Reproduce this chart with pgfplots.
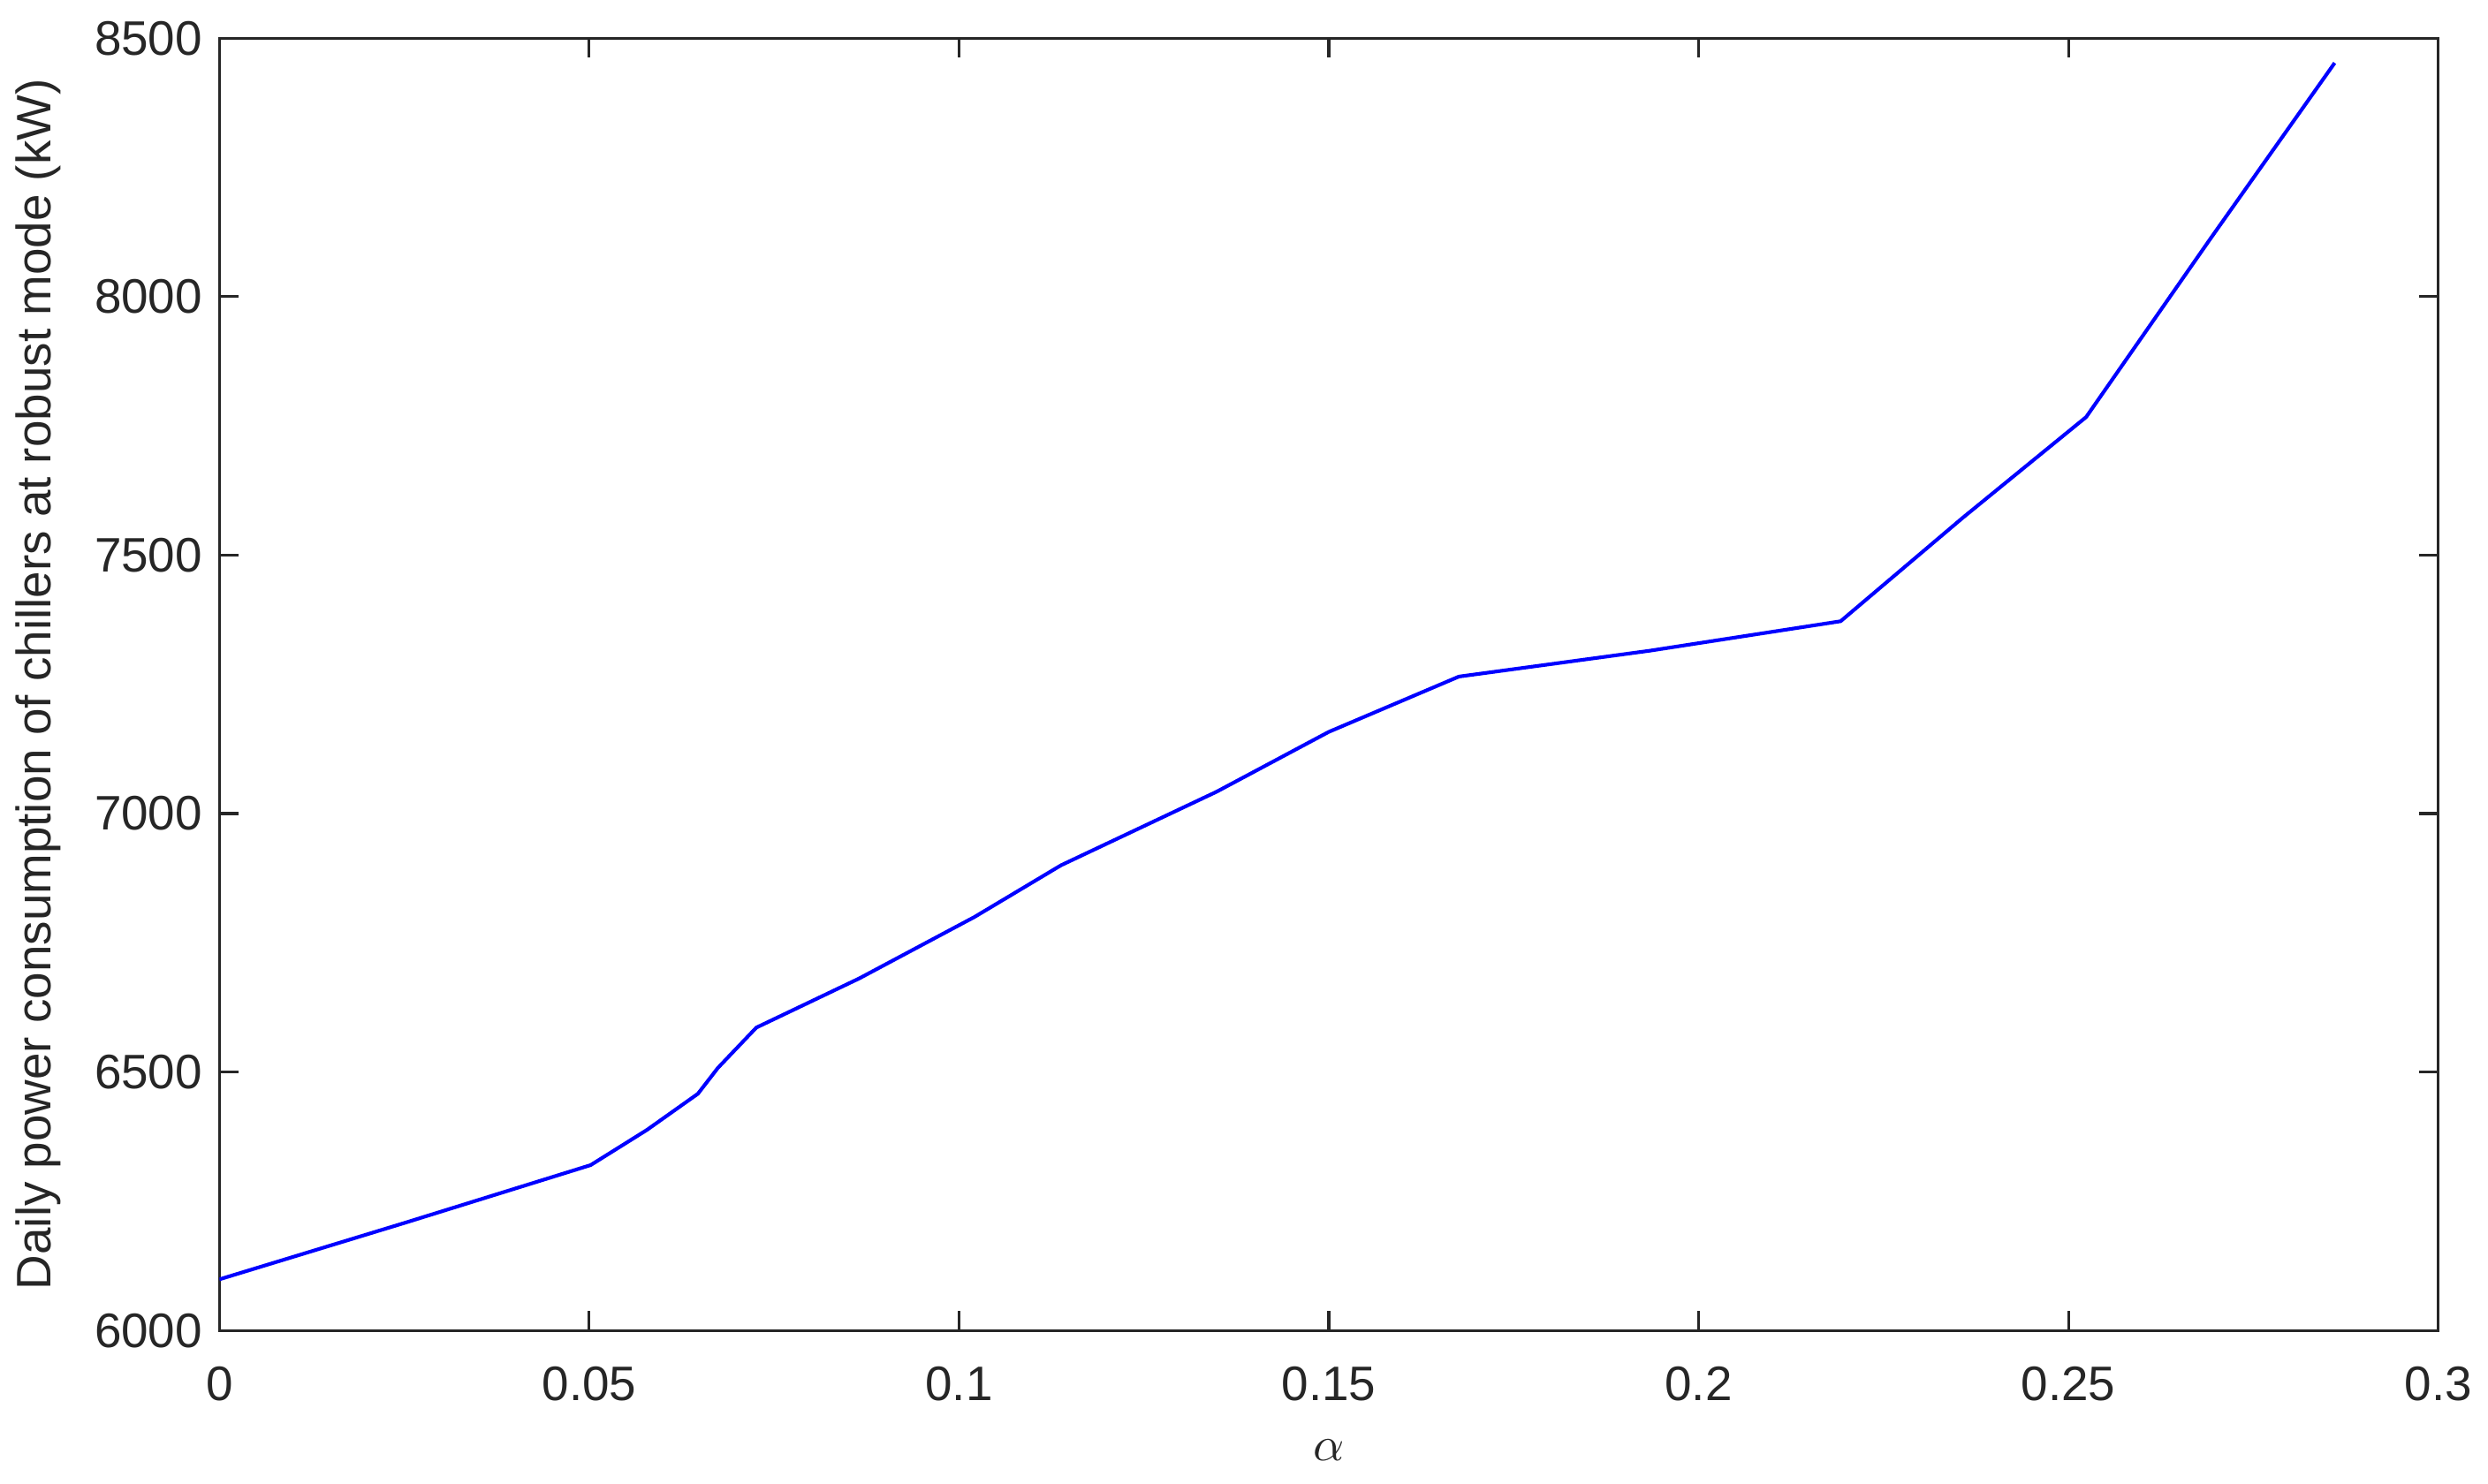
\documentclass[border=0pt]{standalone}
\usepackage{fontspec}
\setmainfont{Liberation Sans}
\usepackage{pgfplots}
\pgfplotsset{compat=1.18}
\definecolor{axgray}{RGB}{38,38,38}
\begin{document}
\begin{tikzpicture}
\begin{axis}[
  width=16.1cm, height=9.38cm,
  scale only axis,
  xmin=0, xmax=0.3,
  ymin=6000, ymax=8500,
  xtick={0,0.05,0.1,0.15,0.2,0.25,0.3},
  xticklabels={0,0.05,0.1,0.15,0.2,0.25,0.3},
  ytick={6000,6500,7000,7500,8000,8500},
  /pgf/number format/1000 sep={},
  /pgf/number format/assume math mode=true,
  tick align=inside,
  major tick length=4pt,
  axis line style={axgray, line width=0.55pt},
  every tick/.style={axgray, line width=0.55pt},
  ticklabel style={text=axgray, font=\fontsize{10}{12}\selectfont},
  xticklabel style={yshift=-4pt},
  xlabel={$\alpha$},
  ylabel={Daily power consumption of chillers at robust mode (kW)},
  label style={text=axgray, font=\fontsize{10}{12}\selectfont},
  xlabel style={yshift=-1pt},
]
\addplot[blue, line width=0.75pt] coordinates {
(0,6099) (0.025,6208) (0.0502,6320) (0.0578,6388) (0.0647,6458)
(0.0674,6508) (0.0726,6586) (0.0865,6681) (0.1021,6800) (0.1138,6900)
(0.1348,7042) (0.15,7158) (0.1676,7265) (0.1934,7315) (0.2192,7372)
(0.2357,7572) (0.2524,7767) (0.2692,8112) (0.286,8452)
};
\end{axis}
% a little white room above and below, as in the reference
\path ([yshift=-1.4pt]current bounding box.south) ([yshift=1pt]current bounding box.north);
\end{tikzpicture}
\end{document}
